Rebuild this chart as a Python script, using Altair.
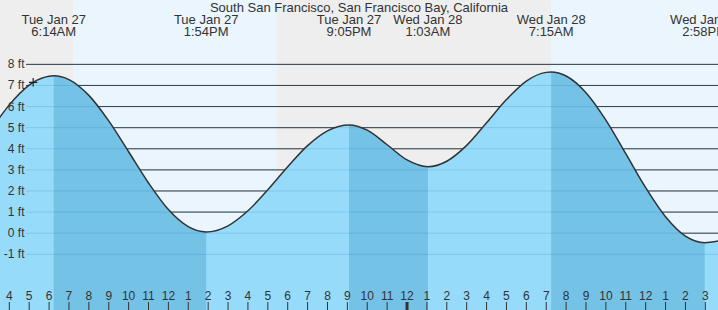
import altair as alt
import pandas as pd

W, H = 718, 310
FONT = "Liberation Sans"
TXT = "#333333"

# tide curve readings: hours after Tue Jan 27 00:00, height in feet
tide_t = [3.5, 4, 5, 5.2, 6, 6.233, 7, 8, 9, 10, 11, 12, 13, 13.9,
          15, 16, 17, 18, 19, 20, 21.083, 22, 23, 24, 25.05,
          26, 27, 28, 29, 30, 31, 31.25, 32, 33, 34, 35, 36, 37, 38, 38.967, 39.7]
tide_ft = [5.46, 6.08, 7.02, 7.15, 7.44, 7.46, 7.28, 6.53, 5.32, 3.86, 2.38, 1.12, 0.31, 0.06,
           0.35, 1.06, 2.06, 3.15, 4.15, 4.85, 5.13, 4.88, 4.19, 3.47, 3.15,
           3.41, 4.16, 5.23, 6.33, 7.21, 7.62, 7.64, 7.45, 6.66, 5.36, 3.77, 2.16, 0.78, -0.14, -0.45, -0.36]

# high / low tide events
ext_t = [6.233, 13.9, 21.083, 25.05, 31.25, 38.967]
ext_date = ["Tue Jan 27", "Tue Jan 27", "Tue Jan 27", "Wed Jan 28", "Wed Jan 28", "Wed Jan 28"]
ext_time = ["6:14AM", "1:54PM", "9:05PM", "1:03AM", "7:15AM", "2:58PM"]

# falling-tide spans (high -> low), drawn darker
fall_start = [6.233, 21.083, 31.25]
fall_end = [13.9, 25.05, 38.967]

# day / night background spans
bg_start = [3.532, 7.24, 17.46, 31.24]
bg_end = [7.24, 17.46, 31.24, 39.638]
bg_kind = ["night", "day", "night", "day"]

# current-time marker
now_t = [5.2]
now_ft = [7.15]

grid_ft = [-1, 0, 1, 2, 3, 4, 5, 6, 7, 8]
grid_lab = ["-1 ft", "0 ft", "1 ft", "2 ft", "3 ft", "4 ft", "5 ft", "6 ft", "7 ft", "8 ft"]

tick_hours = list(range(4, 40))
tick_lab = ["4", "5", "6", "7", "8", "9", "10", "11", "12", "1", "2", "3", "4", "5", "6", "7", "8", "9",
            "10", "11", "12", "1", "2", "3", "4", "5", "6", "7", "8", "9", "10", "11", "12", "1", "2", "3"]
tick_w = [3 if h == 24 else 1 for h in tick_hours]

title = "South San Francisco, San Francisco Bay, California"

xs = alt.Scale(domain=[3.532, 39.638], nice=False, zero=False)
ys = alt.Scale(domain=[-3.64, 11.05], nice=False, zero=False)

tide = pd.DataFrame({"t": tide_t, "ft": tide_ft})
rows = []
for i, (a, b) in enumerate(zip(fall_start, fall_end)):
    for t, f in zip(tide_t, tide_ft):
        if a <= t <= b:
            rows.append({"t": t, "ft": f, "seg": i})
dark = pd.DataFrame(rows)

bg = pd.DataFrame({"t": bg_start, "t2": bg_end, "kind": bg_kind})
grid = pd.DataFrame({"ft": grid_ft, "lab": grid_lab})
ticks = pd.DataFrame({"t": tick_hours, "lab": tick_lab, "w": tick_w})
ext = pd.DataFrame({"t": ext_t, "d": ext_date, "tm": ext_time})
now = pd.DataFrame({"t": now_t, "ft": now_ft})

X = alt.X("t:Q", scale=xs, axis=None)
Y = alt.Y("ft:Q", scale=ys, axis=None, stack=None)

bg_layer = alt.Chart(bg).mark_rect().encode(
    x=X, x2="t2:Q", y=alt.value(0), y2=alt.value(H),
    color=alt.Color("kind:N", scale=alt.Scale(domain=["night", "day"], range=["#eeeeee", "#eaf5fe"]), legend=None),
)

grid_dark = alt.Chart(grid).mark_rule(color="#333333", strokeWidth=1).encode(
    y=Y, x=alt.value(26), x2=alt.value(W))

area_light = alt.Chart(tide).mark_area(interpolate="monotone", color="#97dbfb", clip=True).encode(
    x=X, y=Y, y2=alt.value(H))

area_dark = alt.Chart(dark).mark_area(interpolate="monotone", color="#74c2e6", clip=True).encode(
    x=X, y=Y, y2=alt.value(H), detail="seg:N")

grid_faint = alt.Chart(grid).mark_rule(color="#2a7ab0", strokeOpacity=0.2, strokeWidth=1).encode(
    y=Y, x=alt.value(26), x2=alt.value(W))

curve = alt.Chart(tide).mark_line(interpolate="monotone", color="#333333", strokeWidth=1.5, clip=True).encode(
    x=X, y=Y)

marker = alt.Chart(now).mark_point(shape="M-1,0L1,0M0,-1L0,1", size=70, filled=False,
                                   color="#222222", strokeWidth=1.2, opacity=1).encode(x=X, y=Y)

ylabels = alt.Chart(grid).mark_text(align="right", baseline="middle", font=FONT, fontSize=12, color=TXT).encode(
    y=Y, x=alt.value(24.5), text="lab:N")

xticks = alt.Chart(ticks).mark_rule(color="#333333").encode(
    x=X, y=alt.value(302), y2=alt.value(H), strokeWidth=alt.StrokeWidth("w:Q", scale=None))

xlabels = alt.Chart(ticks).mark_text(align="center", baseline="middle", font=FONT, fontSize=12, color=TXT).encode(
    x=X, y=alt.value(296), text="lab:N")

ext_d = alt.Chart(ext).mark_text(align="center", baseline="middle", font=FONT, fontSize=13, color=TXT).encode(
    x=X, y=alt.value(19.5), text="d:N")
ext_tm = alt.Chart(ext).mark_text(align="center", baseline="middle", font=FONT, fontSize=13, color=TXT).encode(
    x=X, y=alt.value(32), text="tm:N")

title_layer = alt.Chart(pd.DataFrame({"s": [title]})).mark_text(
    align="center", baseline="middle", font=FONT, fontSize=13, color=TXT).encode(
    x=alt.value(359), y=alt.value(7.5), text="s:N")

chart = alt.layer(
    bg_layer, grid_dark, area_light, area_dark, grid_faint, curve, marker,
    ylabels, xticks, xlabels, ext_d, ext_tm, title_layer
).properties(
    width=W, height=H, padding=0, autosize=alt.AutoSizeParams(type="none")
).configure_view(stroke=None)

chart.save("out.html", embed_options={"renderer": "svg", "actions": False})
